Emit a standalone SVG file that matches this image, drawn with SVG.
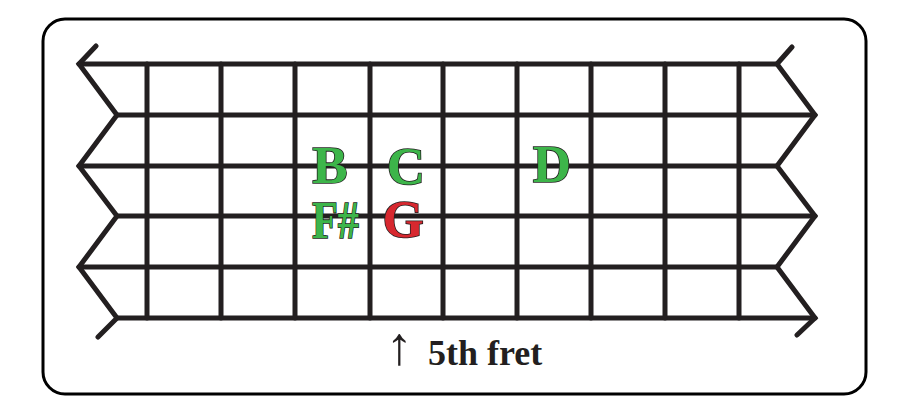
<svg xmlns="http://www.w3.org/2000/svg" width="900" height="414" viewBox="0 0 900 414">
<style>
.frame{fill:#fff;stroke:#000;stroke-width:3}
.ln{fill:none;stroke:#231f20;stroke-width:5;stroke-linecap:round;stroke-linejoin:miter}
.note{font-family:"Liberation Serif","Times New Roman",serif;font-weight:bold;font-size:53px;stroke:#231f20;stroke-width:1.6;paint-order:stroke fill}
.g{fill:#3db54a}
.r{fill:#d7282f}
.lbl{font-family:"Liberation Serif","Times New Roman",serif;fill:#231f20}
</style>
<rect class="frame" x="43" y="19" width="823" height="375" rx="22" ry="22"/>
<g id="connectors">
<path class="ln" d="M79,64H777M117,115H815M79,166H777M117,216H815M79,267H777M117,318H815"/>
<path class="ln" d="M147,64V318M221,64V318M295,64V318M370,64V318M443,64V318M517,64V318M591,64V318M665,64V318M739,64V318"/>
<path class="ln" d="M96,46L79,64L117,115L79,166L117,216L79,267L117,318L98,337"/>
<path class="ln" d="M792,47L777,64L815,115L777,166L815,216L777,267L815,318L797,335"/>
</g>
<g id="note-B"><text class="note g" x="330" y="183" text-anchor="middle">B</text></g>
<g id="note-C"><text class="note g" x="406" y="184" text-anchor="middle">C</text></g>
<g id="note-D"><text class="note g" x="552" y="182" text-anchor="middle">D</text></g>
<g id="note-Fsharp"><text class="note g" x="312" y="238" textLength="47" lengthAdjust="spacingAndGlyphs">F#</text></g>
<g id="note-G"><text class="note r" x="403" y="237" text-anchor="middle">G</text></g>
<g id="label"><text class="lbl" x="386" y="364" font-size="54">↑</text><text class="lbl" x="428" y="365" font-size="36" font-weight="bold">5th fret</text></g>
</svg>
